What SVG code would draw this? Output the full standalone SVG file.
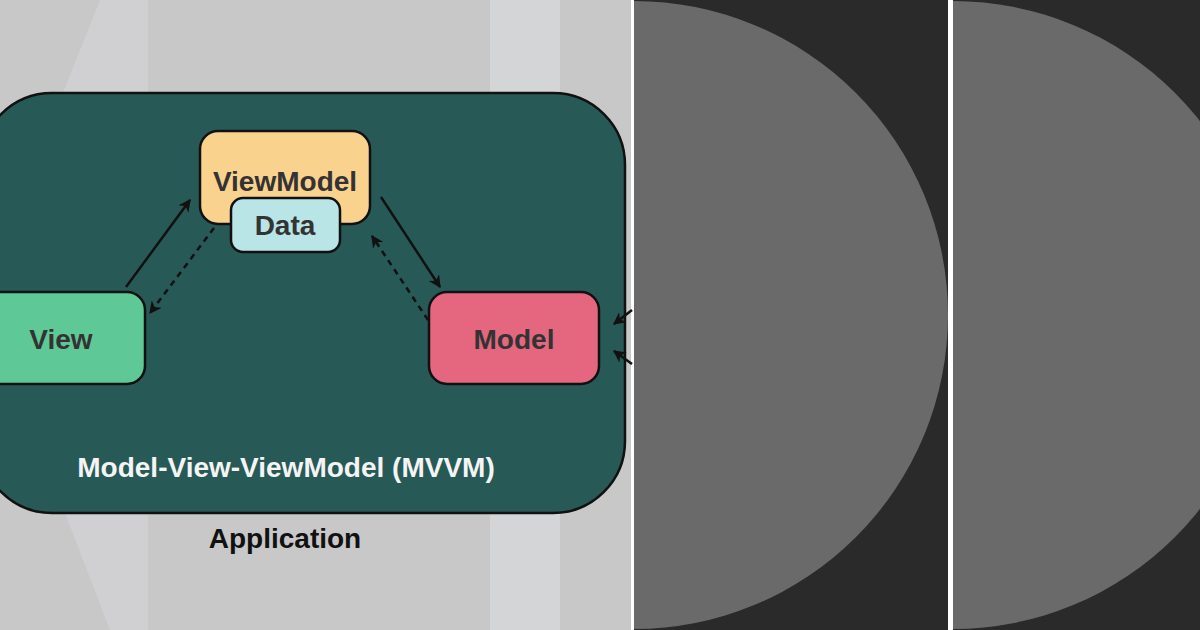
<svg xmlns="http://www.w3.org/2000/svg" width="1200" height="630" viewBox="0 0 1200 630">
<style>
.n{stroke:#111;stroke-width:2.5}
.t{font-family:"Liberation Sans",Arial,sans-serif;font-weight:bold;font-size:28px;text-anchor:middle;fill:#333}
.c{stroke:#111;stroke-width:2.5;fill:none;marker-end:url(#ah)}
.d{stroke-dasharray:6 5}
</style>
<defs>
<marker id="ah" viewBox="0 0 10 10" refX="9" refY="5" markerWidth="5" markerHeight="5" orient="auto"><path d="M0,0L10,5L0,10L3,5Z" fill="#111"/></marker>
<clipPath id="c1"><rect x="634" y="0" width="314" height="630"/></clipPath>
<clipPath id="c2"><rect x="953" y="0" width="247" height="630"/></clipPath>
</defs>
<rect width="1200" height="630" fill="#c8c8c8"/>
<polygon points="100,0 148,0 148,630 110,630 60,500 60,100" fill="#d0d0d2"/>
<rect x="490" y="0" width="70" height="630" fill="#d4d5d7"/>
<rect x="631" y="0" width="569" height="630" fill="#fff"/>
<rect x="634" y="0" width="314" height="630" fill="#2a2a2a"/>
<rect x="953" y="0" width="247" height="630" fill="#2a2a2a"/>
<circle cx="634" cy="315" r="314" fill="#6a6a6a" clip-path="url(#c1)"/>
<circle cx="953" cy="315" r="314" fill="#6a6a6a" clip-path="url(#c2)"/>
<g id="app"><rect class="n" x="-20" y="93" width="645" height="420" rx="72" fill="#275957"/>
<text class="t" x="286" y="477" style="fill:#f4f4f4">Model-View-ViewModel (MVVM)</text>
<text class="t" x="285" y="548" style="fill:#111">Application</text></g>
<g id="viewmodel"><rect class="n" x="200" y="131" width="170" height="93" rx="18" fill="#f9d28e"/><text class="t" x="285" y="191">ViewModel</text></g>
<g id="data"><rect class="n" x="231" y="198" width="109" height="54" rx="12" fill="#b9e5e7"/><text class="t" x="285" y="235">Data</text></g>
<g id="view"><rect class="n" x="-20" y="292" width="165" height="92" rx="18" fill="#5ec996"/><text class="t" x="61" y="349">View</text></g>
<g id="model"><rect class="n" x="429" y="292" width="170" height="92" rx="18" fill="#e5667f"/><text class="t" x="514" y="349">Model</text></g>
<g id="connectors">
<path class="c" d="M126,287L190,200"/>
<path class="c d" d="M214,228L150,313"/>
<path class="c" d="M381,197L440,287"/>
<path class="c d" d="M428,320L372,236"/>
<path class="c" d="M632,310L614,324"/>
<path class="c" d="M632,364L614,351"/>
</g>
</svg>
